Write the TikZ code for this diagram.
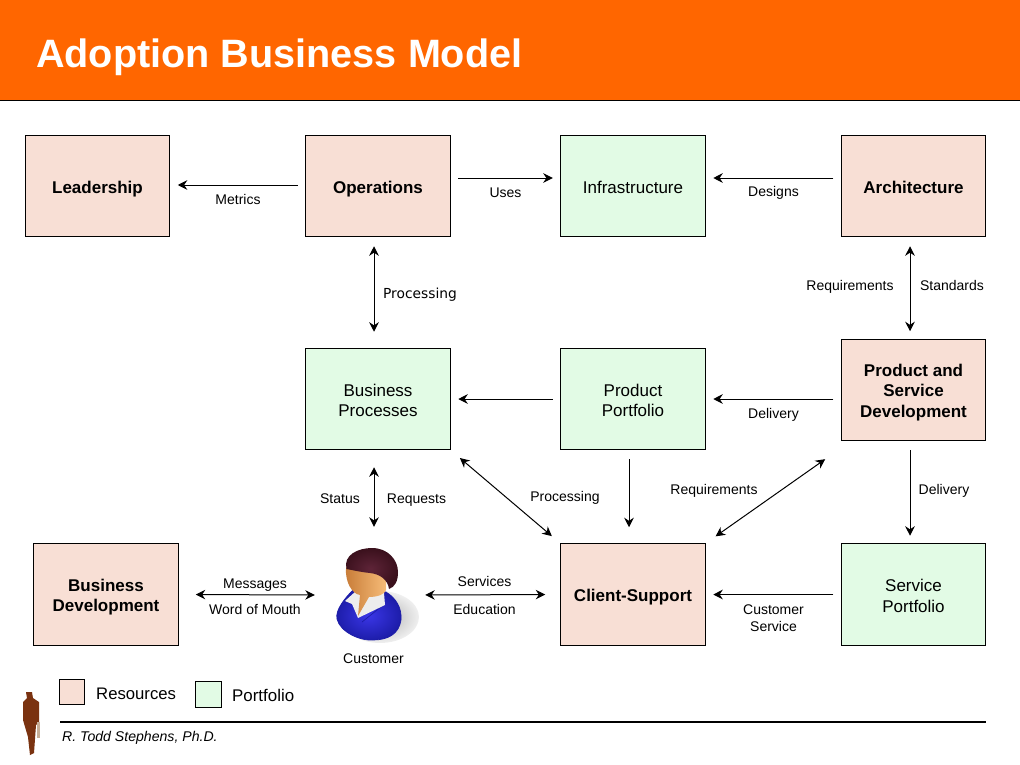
\documentclass[tikz,border=0pt]{standalone}
\usepackage{fontspec}
\setmainfont{Liberation Sans}
\newfontfamily\procfont{DejaVu Sans}
\usetikzlibrary{arrows.meta}
\definecolor{headorange}{HTML}{FF6600}
\definecolor{respink}{HTML}{F8DFD5}
\definecolor{portgreen}{HTML}{E2FBE5}
\definecolor{figbrown}{HTML}{7A3210}
\definecolor{coatblue}{HTML}{3A36E6}
\definecolor{coatdark}{HTML}{1C1CA8}
\definecolor{hairdark}{HTML}{3A101C}
\definecolor{hairlight}{HTML}{5E2438}
\definecolor{skinlight}{HTML}{F6BC78}
\definecolor{skindark}{HTML}{C87C38}
\newcommand{\topstrut}{\rule{0pt}{17.5pt}}
\tikzset{
	boxtext/.style={inner sep=0pt, align=center, minimum width=144.5pt, minimum height=101.5pt,
		execute at begin node={\rule{0pt}{17.7pt}}, execute at end node={\rule[-3pt]{0pt}{3pt}}},
	resbox/.style={boxtext, draw=black, line width=1pt, fill=respink, font=\fontsize{17}{20.5}\selectfont\bfseries},
	portbox/.style={boxtext, draw=black, line width=1pt, fill=portgreen, font=\fontsize{17}{20.5}\selectfont},
	lab/.style={inner sep=0pt, align=center, font=\fontsize{14}{17}\selectfont},
	link/.style={line width=1pt, shorten >=7.5pt, shorten <=7.5pt},
	oneway/.style={link, -{Stealth[length=9.5pt,width=9.5pt]}},
	twoway/.style={link, {Stealth[length=9.5pt,width=9.5pt]}-{Stealth[length=9.5pt,width=9.5pt]}},
}
\begin{document}
\begin{tikzpicture}[x=1pt, y=-1pt]
\useasboundingbox (0,0) rectangle (1020,765);

% header
\fill[headorange] (0,0) rectangle (1020,101);
\draw[line width=1pt] (0,101) -- (1020,101);
\node[anchor=west, inner sep=0pt, text=white, font=\fontsize{39.6}{44}\selectfont\bfseries] (title) at (36,57) {Adoption Business Model};

% boxes
\node[resbox] (leader) at (97.5,186) {Leadership};
\node[resbox] (ops) at (378,186) {Operations};
\node[portbox] (infra) at (633,186) {Infrastructure};
\node[resbox] (arch) at (913.5,186) {Architecture};
\node[portbox] (procs) at (378,399) {\topstrut Business\\Processes};
\node[portbox] (prodport) at (633,399) {\topstrut Product\\Portfolio};
\node[resbox] (psd) at (913.5,390) {\topstrut Product and\\Service\\Development};
\node[resbox] (bizdev) at (106,594.5) {\topstrut Business\\Development};
\node[resbox] (support) at (633,594.5) {Client-Support};
\node[portbox] (servport) at (913.5,594.5) {\topstrut Service\\Portfolio};

% customer
\node[minimum width=95pt, minimum height=121pt, inner sep=0pt] (cust) at (370,595) {};
\shade[inner color=black!32, outer color=black!6] (380,617) ellipse (39 and 26);
\shade[inner color=coatblue, outer color=coatdark, draw=coatdark, line width=0.7pt] (353,590) .. controls (345,598) and (335,610) .. (337,619) .. controls (340,632) and (360,641) .. (373,640) .. controls (388,640) and (399,634) .. (401,620) .. controls (402,608) and (396,598) .. (386,592) -- cycle;
\draw[coatdark, line width=0.7pt] (362,622) -- (382,606);
\fill[white!93!black] (345,601) -- (356,591) -- (384,593) -- (385,605) -- (358,618) -- (352,604) -- cycle;
\shade[left color=skindark, right color=skinlight] (346,568) .. controls (345,582) and (352,594) .. (360,595) -- (358,616) -- (369,597) .. controls (378,597) and (385,594) .. (386,590) -- (386,570) -- (352,558) -- cycle;
\shade[inner color=hairlight, outer color=hairdark] (346.5,569) .. controls (343,555) and (358,548) .. (372,548) .. controls (388,548) and (398,560) .. (398,572) .. controls (398,581) and (395,587) .. (389,589) .. controls (388,580) and (380,574) .. (370,573) .. controls (360,572) and (352,570) .. (346.5,569) -- cycle;
\node[lab] (custlab) at (373.5,659) {Customer};

% arrows
\draw[oneway] ([yshift=1pt]ops.west) -- ([yshift=1pt]leader.east);
\draw[oneway] ([yshift=8pt]ops.east) -- ([yshift=8pt]infra.west);
\draw[oneway] ([yshift=8pt]arch.west) -- ([yshift=8pt]infra.east);
\draw[twoway, shorten <=9pt, shorten >=16pt] ([xshift=-4pt]ops.south) -- ([xshift=-4pt]procs.north);
\draw[twoway, shorten <=9pt] ([xshift=-3.5pt]arch.south) -- ([xshift=-3.5pt]psd.north);
\draw[oneway] (prodport.west) -- (procs.east);
\draw[oneway] ([yshift=-9pt]psd.west) -- (prodport.east);
\draw[twoway, shorten <=17pt] ([xshift=-4pt]procs.south) -- ([xshift=4pt]cust.north);
\draw[twoway, shorten <=12pt, shorten >=11pt] (procs.south east) -- (support.north west);
\draw[oneway, shorten <=9pt, shorten >=16pt] ([xshift=-4pt]prodport.south) -- ([xshift=-4pt]support.north);
\draw[twoway, shorten <=19pt, shorten >=12pt] ([yshift=-7pt]psd.south west) -- (support.north east);
\draw[oneway, shorten <=9pt] ([xshift=-3.5pt]psd.south) -- ([xshift=-3.5pt]servport.north);
\draw[oneway] (servport.west) -- (support.east);
\draw[twoway, shorten <=17pt] (bizdev.east) -- (cust.west);
\draw[twoway, shorten >=15pt] (cust.east) -- (support.west);

% labels
\node[lab] (metrics) at (238,199) {Metrics};
\node[lab] (uses) at (505.5,193) {Uses};
\node[lab] (designs) at (773.5,193) {Designs};
\node[lab, font=\fontsize{13.8}{17}\procfont] (procup) at (420,295) {Processing};
\node[lab] (requp) at (850,287) {Requirements};
\node[lab] (stand) at (952,285) {Standards};
\node[lab] (delup) at (773.5,415) {Delivery};
\node[lab] (status) at (340,499) {Status};
\node[lab] (requests) at (416.5,500) {Requests};
\node[lab] (proclow) at (565,498) {Processing};
\node[lab] (reqlow) at (714,491) {Requirements};
\node[lab] (dellow) at (944,491) {Delivery};
\node[lab] (msgs) at (255,585.5) {Messages};
\node[lab] (word) at (255,609) {Word of Mouth};
\node[lab] (servs) at (484.5,581) {Services};
\node[lab] (edu) at (484.5,609) {Education};
\node[lab] (custserv) at (773.5,618.5) {Customer\\Service};

% legend
\node[draw=black, line width=0.8pt, fill=respink, minimum size=25pt, inner sep=0pt] (legres) at (72,692) {};
\node[draw=black, line width=0.8pt, fill=portgreen, minimum size=26pt, inner sep=0pt] (legport) at (208,694.5) {};
\node[anchor=west, inner sep=0pt, font=\fontsize{16.7}{20}\selectfont] (legrestxt) at (96,694) {Resources};
\node[anchor=west, inner sep=0pt, font=\fontsize{16.9}{20}\selectfont] (legporttxt) at (232,695) {Portfolio};

% footer
\fill[figbrown] (26,692) -- (32,692) -- (33,698) -- (39,702) -- (39,722) -- (36,725) -- (34,753) -- (30,755) -- (28,737) -- (23,720) -- (23,702) -- (27,698) -- cycle;
\fill[black!25!brown!50] (36.5,722) rectangle (39.5,738);
\draw[line width=2pt] (60,722) -- (986,722);
\node[anchor=west, inner sep=0pt, font=\fontsize{14.1}{16}\selectfont\itshape] (author) at (62,737.5) {R. Todd Stephens, Ph.D.};
\end{tikzpicture}
\end{document}
